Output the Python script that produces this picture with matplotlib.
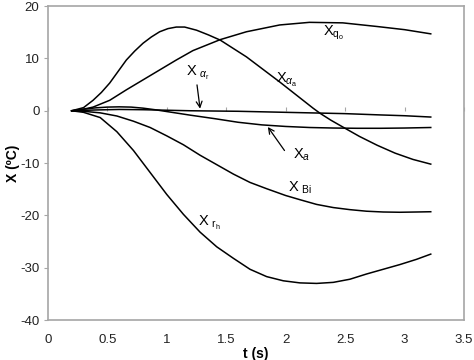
import matplotlib
matplotlib.use('Agg')
import matplotlib.pyplot as plt

plt.rcParams['font.family'] = ['Liberation Sans', 'DejaVu Sans']
plt.rcParams['mathtext.fontset'] = 'custom'
plt.rcParams['mathtext.rm'] = 'Liberation Sans'
plt.rcParams['mathtext.it'] = 'Liberation Sans:italic'
plt.rcParams['mathtext.bf'] = 'Liberation Sans:bold'
plt.rcParams['axes.unicode_minus'] = False

# curve data
t_aa = [0.2, 0.3, 0.38, 0.45, 0.52, 0.59, 0.66, 0.73, 0.80, 0.87, 0.94, 1.01, 1.08, 1.15,
        1.25, 1.35, 1.45, 1.56, 1.67, 1.81, 1.95, 2.09, 2.23, 2.29, 2.38, 2.48, 2.62, 2.77,
        2.92, 3.07, 3.22]
x_aa = [0, 0.6, 2.0, 3.5, 5.3, 7.5, 9.7, 11.4, 12.9, 14.1, 15.1, 15.7, 16.0, 16.0,
        15.4, 14.5, 13.5, 11.9, 10.3, 7.9, 5.5, 3.0, 0.5, -0.5, -1.8, -3.1, -4.9, -6.6,
        -8.1, -9.3, -10.2]

t_qo = [0.2, 0.3, 0.38, 0.52, 0.66, 0.80, 0.94, 1.08, 1.22, 1.45, 1.67, 1.95, 2.2, 2.48,
        2.77, 3.0, 3.22]
x_qo = [0, 0.3, 0.7, 2.0, 4.0, 5.9, 7.8, 9.7, 11.5, 13.6, 15.1, 16.4, 16.9, 16.8,
        16.1, 15.5, 14.7]

t_ar = [0.2, 0.4, 0.6, 0.8, 1.0, 1.2, 1.4, 1.6, 1.9, 2.2, 2.5, 2.8, 3.0, 3.22]
x_ar = [0, 0.15, 0.25, 0.2, 0.1, 0.0, -0.05, -0.1, -0.25, -0.4, -0.55, -0.8, -0.95, -1.2]

t_a = [0.2, 0.3, 0.4, 0.5, 0.6, 0.7, 0.8, 0.9, 1.0, 1.1, 1.2, 1.4, 1.6, 1.8, 2.0, 2.2,
       2.4, 2.6, 2.8, 3.0, 3.22]
x_a = [0, 0.3, 0.55, 0.7, 0.75, 0.7, 0.5, 0.2, -0.15, -0.5, -0.85, -1.5, -2.2, -2.7,
       -3.0, -3.2, -3.3, -3.35, -3.35, -3.3, -3.2]

t_bi = [0.2, 0.3, 0.44, 0.58, 0.72, 0.86, 1.0, 1.14, 1.28, 1.42, 1.56, 1.7, 1.84, 2.0,
        2.12, 2.26, 2.4, 2.54, 2.68, 2.82, 2.96, 3.1, 3.22]
x_bi = [0, -0.1, -0.4, -1.0, -2.0, -3.2, -4.8, -6.5, -8.5, -10.3, -12.1, -13.7, -14.9,
        -16.2, -17.0, -17.9, -18.5, -18.9, -19.2, -19.35, -19.4, -19.35, -19.3]

t_rh = [0.2, 0.3, 0.44, 0.58, 0.72, 0.86, 1.0, 1.14, 1.28, 1.42, 1.56, 1.7, 1.84, 1.98,
        2.12, 2.26, 2.4, 2.54, 2.68, 2.82, 2.96, 3.1, 3.22]
x_rh = [0, -0.3, -1.3, -4.0, -7.6, -11.8, -16.0, -19.8, -23.2, -26.0, -28.2, -30.3,
        -31.7, -32.5, -32.9, -33.0, -32.8, -32.2, -31.2, -30.3, -29.4, -28.4, -27.4]

x_ticks = [0, 0.5, 1, 1.5, 2, 2.5, 3, 3.5]
x_ticklabels = ['0', '0.5', '1', '1.5', '2', '2.5', '3', '3.5']
y_ticks = [-40, -30, -20, -10, 0, 10, 20]

grey = '#a6a6a6'

fig = plt.figure(figsize=(4.74, 3.6), dpi=100)
ax = fig.add_axes([0.101, 0.111, 0.878, 0.872])

for t, x in [(t_aa, x_aa), (t_qo, x_qo), (t_ar, x_ar), (t_a, x_a), (t_bi, x_bi), (t_rh, x_rh)]:
    ax.plot(t, x, color='black', lw=1.1, zorder=3)

ax.set_xlim(0, 3.5)
ax.set_ylim(-40, 20)
ax.set_xticks(x_ticks)
ax.set_xticklabels(x_ticklabels)
ax.set_yticks(y_ticks)
ax.tick_params(axis='x', length=0, pad=10, labelsize=9.5, colors='#222222')
ax.tick_params(axis='y', length=3, direction='out', color=grey, labelsize=9.5,
               labelcolor='#222222', pad=3)
for s in ax.spines.values():
    s.set_color(grey)
    s.set_linewidth(1.2)

# zero axis line with its own ticks
sec = ax.secondary_xaxis(2 / 3)
sec.set_xticks(x_ticks)
sec.tick_params(length=3, direction='out', color=grey, labelbottom=False, labeltop=False)
sec.spines['bottom'].set_color(grey)
sec.spines['bottom'].set_linewidth(1.8)
sec.spines['top'].set_visible(False)

ax.set_xlabel('t (s)', fontweight='bold', fontsize=10, labelpad=1)
ax.set_ylabel('X (ºC)', fontweight='bold', fontsize=10)
ax.yaxis.set_label_coords(-0.068, 0.5)

fs = 10.5
ax.text(2.31, 14.8, r'X$_{\mathrm{q_o}}$', fontsize=fs, ha='left', va='center')
ax.text(1.92, 5.9, r'X$_{\alpha_\mathrm{a}}$', fontsize=fs, ha='left', va='center')
ax.text(2.06, -8.5, r'X$_{a}$', fontsize=fs, ha='left', va='center')
ax.text(2.02, -14.8, r'X $_{\mathrm{Bi}}$', fontsize=fs, ha='left', va='center')
ax.text(1.26, -21.5, r'X $_{\mathrm{r_h}}$', fontsize=fs, ha='left', va='center')
ax.annotate(r'X $_{\alpha_\mathrm{r}}$', xy=(1.28, 0.4), xytext=(1.16, 7.2),
            fontsize=fs, ha='left', va='center',
            arrowprops=dict(arrowstyle='->', color='black', lw=0.9,
                            shrinkA=0, shrinkB=0, relpos=(0.45, 0.0)))
ax.annotate('', xy=(1.85, -3.1), xytext=(1.99, -7.6),
            arrowprops=dict(arrowstyle='->', color='black', lw=0.9, shrinkA=0, shrinkB=0))

fig.savefig('out.png', dpi=100)
